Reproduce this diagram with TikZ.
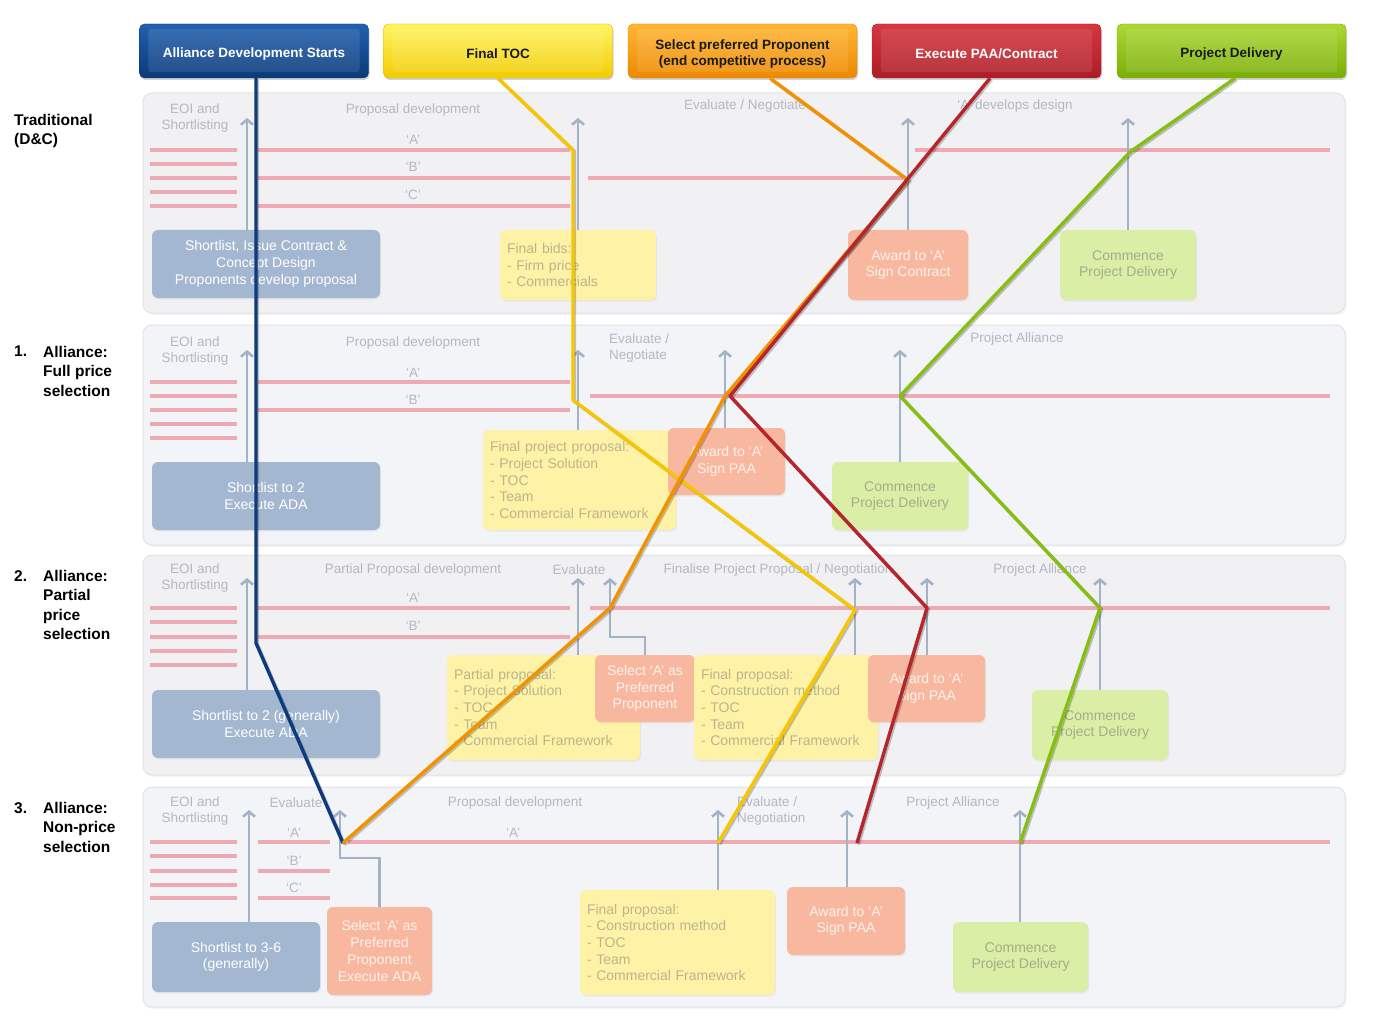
\documentclass[tikz,border=0pt]{standalone}
\usepackage{fontspec}
\setmainfont{Liberation Sans}
\usetikzlibrary{shadows,arrows.meta}
\definecolor{navyc}{HTML}{0B3B7C}
\definecolor{yelc}{HTML}{F7C600}
\definecolor{orac}{HTML}{F39200}
\definecolor{redc}{HTML}{B5252C}
\definecolor{grnc}{HTML}{86BF14}
\definecolor{hAt}{HTML}{2260AE}
\definecolor{hAb}{HTML}{0A3A7A}
\definecolor{hBt}{HTML}{FFF462}
\definecolor{hBb}{HTML}{F2CC00}
\definecolor{hCt}{HTML}{FFB634}
\definecolor{hCb}{HTML}{EC8800}
\definecolor{hDt}{HTML}{D6363F}
\definecolor{hDb}{HTML}{AC1D27}
\definecolor{hEt}{HTML}{ABD834}
\definecolor{hEb}{HTML}{7BAE08}
\definecolor{bandA}{HTML}{F1F1F3}
\definecolor{bandB}{HTML}{F2F4F8}
\definecolor{bandline}{HTML}{E1E3E8}
\definecolor{fadetxt}{HTML}{B3B8C2}
\definecolor{fredl}{HTML}{EEAAB3}
\definecolor{arrc}{HTML}{A3B2C7}
\definecolor{fblue}{HTML}{A4B7D1}
\definecolor{fyel}{HTML}{FDF2A6}
\definecolor{fyeltxt}{HTML}{BCB58C}
\definecolor{fsal}{HTML}{F8B8A0}
\definecolor{fsaltxt}{HTML}{FFF1EA}
\definecolor{fgrn}{HTML}{DBEEA5}
\definecolor{fgrntxt}{HTML}{A4AD8A}
\begin{document}
\begin{tikzpicture}[x=1pt,y=-1pt,
  hdr/.style={rounded corners=5pt, minimum width=229pt, minimum height=54pt, inner sep=0pt,
    font=\fontsize{13.5}{16}\selectfont\bfseries, align=center,
    drop shadow={opacity=0.35,shadow xshift=1pt,shadow yshift=-2pt}},
  bevel/.style={fill=white, opacity=0.10, rounded corners=3pt},
  band/.style={rounded corners=9pt, draw=bandline, line width=1pt,
    drop shadow={opacity=0.08,shadow xshift=1.5pt,shadow yshift=-2pt}},
  flab/.style={text=fadetxt, font=\fontsize{13.5}{16.5}\selectfont, inner sep=0pt, align=center},
  fline/.style={draw=fredl, line width=3.1pt},
  farrow/.style={draw=arrc, line width=2.6pt, -{Straight Barb[length=5pt,width=12pt]}},
  fbox/.style={rounded corners=6pt, inner sep=5pt, font=\fontsize{14}{16.7}\selectfont,
    drop shadow={opacity=0.10,shadow xshift=1pt,shadow yshift=-1.5pt}},
  blueb/.style={fbox, fill=fblue, text=white, align=center},
  yelb/.style={fbox, fill=fyel, text=fyeltxt, align=left},
  salb/.style={fbox, fill=fsal, text=fsaltxt, align=center},
  greb/.style={fbox, fill=fgrn, text=fgrntxt, align=center},
  tl/.style={line width=3.4pt, line join=round,
    preaction={draw=black, opacity=0.22, line width=3.4pt,
      transform canvas={xshift=1.5pt,yshift=-1.5pt}}},
  rowlab/.style={font=\fontsize{15.5}{19.5}\selectfont\bfseries, inner sep=0pt, align=left, anchor=north west}
]
\useasboundingbox (0,0) rectangle (1375,1032);
\fill[white] (0,0) rectangle (1375,1032);

% ---------- row labels ----------
\node[rowlab] (lt) at (14,114) {Traditional\\(D\&C)};
\node[rowlab] (n1) at (14,346) {1.};
\node[rowlab] (l1) at (43,346) {Alliance:\\Full price\\selection};
\node[rowlab] (n2) at (14,570) {2.};
\node[rowlab] (l2) at (43,570) {Alliance:\\Partial\\price\\selection};
\node[rowlab] (n3) at (14,802) {3.};
\node[rowlab] (l3) at (43,802) {Alliance:\\Non-price\\selection};

% ---------- bands ----------
\draw[band, fill=bandA] (143,93) rectangle (1345,313);
\draw[band, fill=bandB] (143,325) rectangle (1345,545);
\draw[band, fill=bandA] (143,555) rectangle (1345,775);
\draw[band, fill=bandB] (143,787) rectangle (1345,1007);

% ---------- band 1 : Traditional ----------
\foreach \yy in {150,164,178,192,206} \draw[fline] (150,\yy) -- (237,\yy);
\foreach \yy in {150,178,206} \draw[fline] (258,\yy) -- (570,\yy);
\draw[fline] (588,178) -- (903,178);
\draw[fline] (915,150) -- (1330,150);
\node[flab] (e1) at (195,118) {EOI and\\Shortlisting};
\node[flab] (p1) at (413,110) {Proposal development};
\node[flab] (a1) at (413,140) {`A'};
\node[flab] (bb1) at (413,167) {`B'};
\node[flab] (c1) at (413,195) {`C'};
\node[flab] (v1) at (745,106) {Evaluate / Negotiate};
\node[flab] (d1) at (1015,106) {`A' develops design};
\node[blueb, minimum width=228pt, minimum height=68pt] (b1a) at (266,264)
  {Shortlist, Issue Contract \&\\Concept Design\\Proponents develop proposal};
\node[yelb, minimum width=156pt, minimum height=70pt, text width=142pt] (b1b) at (578,265)
  {Final bids:\\- Firm price\\- Commercials};
\node[salb, minimum width=120pt, minimum height=70pt] (b1c) at (908,265) {Award to `A'\\Sign Contract};
\node[greb, minimum width=136pt, minimum height=70pt] (b1d) at (1128,265) {Commence\\Project Delivery};
\coordinate (t1a) at (247,118);
\coordinate (t1b) at (578,118);
\coordinate (t1c) at (908,118);
\coordinate (t1d) at (1128,118);
\draw[farrow] (b1a.north -| t1a) -- (t1a);
\draw[farrow] (b1b.north) -- (t1b);
\draw[farrow] (b1c.north) -- (t1c);
\draw[farrow] (b1d.north) -- (t1d);

% ---------- band 2 : Full price ----------
\foreach \yy in {382,396,410,424,438} \draw[fline] (150,\yy) -- (237,\yy);
\foreach \yy in {382,410} \draw[fline] (258,\yy) -- (570,\yy);
\draw[fline] (590,396) -- (1330,396);
\node[flab] (e2) at (195,351) {EOI and\\Shortlisting};
\node[flab] (p2) at (413,343) {Proposal development};
\node[flab] (a2) at (413,373) {`A'};
\node[flab] (bb2) at (413,400) {`B'};
\node[flab, align=left, anchor=west] (v2) at (609,348) {Evaluate /\\Negotiate};
\node[flab] (pa2) at (1017,339) {Project Alliance};
\node[blueb, minimum width=228pt, minimum height=68pt] (b2a) at (266,496) {Shortlist to 2\\Execute ADA};
\node[yelb, minimum width=193pt, minimum height=100pt, text width=179pt] (b2b) at (579.5,480)
  {Final project proposal:\\- Project Solution\\- TOC\\- Team\\- Commercial Framework};
\node[salb, minimum width=117pt, minimum height=67pt] (b2c) at (726.5,461.5) {Award to `A'\\Sign PAA};
\node[greb, minimum width=136pt, minimum height=68pt] (b2d) at (900,496) {Commence\\Project Delivery};
\coordinate (t2a) at (247,350);
\coordinate (t2b) at (578,350);
\coordinate (t2c) at (725,350);
\coordinate (t2d) at (900,350);
\draw[farrow] (b2a.north -| t2a) -- (t2a);
\draw[farrow] (b2b.north -| t2b) -- (t2b);
\draw[farrow] (b2c.north -| t2c) -- (t2c);
\draw[farrow] (b2d.north) -- (t2d);

% ---------- band 3 : Partial price ----------
\foreach \yy in {608,622,637,651,665} \draw[fline] (150,\yy) -- (237,\yy);
\foreach \yy in {608,637} \draw[fline] (258,\yy) -- (570,\yy);
\draw[fline] (590,608) -- (1330,608);
\node[flab] (e3) at (195,578) {EOI and\\Shortlisting};
\node[flab] (p3) at (413,570) {Partial Proposal development};
\node[flab] (a3) at (413,598) {`A'};
\node[flab] (bb3) at (413,626) {`B'};
\node[flab] (v3) at (579,570) {Evaluate};
\node[flab] (f3) at (778,570) {Finalise Project Proposal / Negotiation};
\node[flab] (pa3) at (1040,570) {Project Alliance};
\node[blueb, minimum width=228pt, minimum height=68pt] (b3a) at (266,724) {Shortlist to 2 (generally)\\Execute ADA};
\node[yelb, minimum width=193pt, minimum height=105pt, text width=179pt] (b3b) at (543.5,707.5)
  {Partial proposal:\\- Project Solution\\- TOC\\- Team\\- Commercial Framework};
\node[salb, minimum width=100pt, minimum height=67pt] (b3c) at (645,688.5) {Select `A' as\\Preferred\\Proponent};
\node[yelb, minimum width=184pt, minimum height=105pt, text width=170pt] (b3d) at (786,707.5)
  {Final proposal:\\- Construction method\\- TOC\\- Team\\- Commercial Framework};
\node[salb, minimum width=117pt, minimum height=67pt] (b3e) at (926.5,688.5) {Award to `A'\\Sign PAA};
\node[greb, minimum width=136pt, minimum height=70pt] (b3f) at (1100,725) {Commence\\Project Delivery};
\coordinate (t3a) at (247,578);
\coordinate (t3b) at (578,578);
\coordinate (t3c) at (610,578);
\coordinate (t3d) at (855,578);
\coordinate (t3e) at (927,578);
\coordinate (t3f) at (1100,578);
\draw[farrow] (b3a.north -| t3a) -- (t3a);
\draw[farrow] (b3b.north -| t3b) -- (t3b);
\draw[farrow] (b3c.north) -- ++(0,-18) -| (t3c);
\draw[farrow] (b3d.north -| t3d) -- (t3d);
\draw[farrow] (b3e.north -| t3e) -- (t3e);
\draw[farrow] (b3f.north) -- (t3f);

% ---------- band 4 : Non-price ----------
\foreach \yy in {842,856,871,885,898} \draw[fline] (150,\yy) -- (237,\yy);
\foreach \yy in {842,871,898} \draw[fline] (258,\yy) -- (330,\yy);
\draw[fline] (348,842) -- (1330,842);
\node[flab] (e4) at (195,811) {EOI and\\Shortlisting};
\node[flab] (v4) at (296,803) {Evaluate};
\node[flab] (a4) at (294,833) {`A'};
\node[flab] (bb4) at (294,861) {`B'};
\node[flab] (c4) at (294,888) {`C'};
\node[flab] (p4) at (515,803) {Proposal development};
\node[flab] (a4b) at (513,833) {`A'};
\node[flab, align=left, anchor=west] (v4b) at (737,811) {Evaluate /\\Negotiation};
\node[flab] (pa4) at (953,803) {Project Alliance};
\node[blueb, minimum width=168pt, minimum height=70pt] (b4a) at (236,957) {Shortlist to 3-6\\(generally)};
\node[salb, minimum width=105pt, minimum height=88pt] (b4b) at (379.5,951) {Select `A' as\\Preferred\\Proponent\\Execute ADA};
\node[yelb, minimum width=195pt, minimum height=105pt, text width=181pt] (b4c) at (677.5,942.5)
  {Final proposal:\\- Construction method\\- TOC\\- Team\\- Commercial Framework};
\node[salb, minimum width=118pt, minimum height=68pt] (b4d) at (846,921) {Award to `A'\\Sign PAA};
\node[greb, minimum width=135pt, minimum height=70pt] (b4e) at (1020.5,957) {Commence\\Project Delivery};
\coordinate (t4a) at (249,810);
\coordinate (t4b) at (340,810);
\coordinate (t4c) at (718,810);
\coordinate (t4d) at (847,810);
\coordinate (t4e) at (1020,810);
\draw[farrow] (b4a.north -| t4a) -- (t4a);
\draw[farrow] (b4b.north) -- ++(0,-49) -| (t4b);
\draw[farrow] (b4c.north -| t4c) -- (t4c);
\draw[farrow] (b4d.north -| t4d) -- (t4d);
\draw[farrow] (b4e.north -| t4e) -- (t4e);

% ---------- header boxes ----------
\node[hdr, top color=hAt, bottom color=hAb, draw=hAb, text=white] (hA) at (254,51) {\rule{0pt}{15pt}Alliance Development Starts};
\node[hdr, top color=hBt, bottom color=hBb, draw=hBb!90!black, text=black] (hB) at (498,51) {\rule{0pt}{15pt}Final TOC};
\node[hdr, top color=hCt, bottom color=hCb, draw=hCb, text=black] (hC) at (742.5,51) {\rule{0pt}{15pt}Select preferred Proponent\\(end competitive process)};
\node[hdr, top color=hDt, bottom color=hDb, draw=hDb, text=white] (hD) at (986.5,51) {\rule{0pt}{15pt}Execute PAA/Contract};
\node[hdr, top color=hEt, bottom color=hEb, draw=hEb, text=black] (hE) at (1231.5,51) {\rule{0pt}{15pt}Project Delivery};
\foreach \hn in {hA,hB,hC,hD,hE}
  \fill[bevel] ([xshift=9pt,yshift=-5pt]\hn.north west) rectangle ([xshift=-9pt,yshift=6pt]\hn.south east);

% ---------- timelines ----------
\coordinate (nv1) at (256,643);
\coordinate (nv2) at (343,843);
\coordinate (yv1) at (573,150);
\coordinate (yv2) at (573,400);
\coordinate (yv3) at (855,610);
\coordinate (yv4) at (718,843);
\coordinate (ov0) at (770,78);
\coordinate (ov1) at (908,180);
\coordinate (ov2) at (725,396);
\coordinate (ov3) at (610,608);
\coordinate (ov4) at (343,843);
\coordinate (rv0) at (990,78);
\coordinate (rv1) at (730,396);
\coordinate (rv2) at (927,608);
\coordinate (rv3) at (857,843);
\coordinate (gv0) at (1235,78);
\coordinate (gv1) at (1130,152);
\coordinate (gv2) at (900,396);
\coordinate (gv3) at (1100,608);
\coordinate (gv4) at (1020,843);
\draw[tl, draw=navyc] (hA.south -| nv1) -- (nv1) -- (nv2);
\draw[tl, draw=yelc] (hB.south) -- (yv1) -- (yv2) -- (yv3) -- (yv4);
\draw[tl, draw=orac] (hC.south -| ov0) -- (ov1) -- (ov2) -- (ov3) -- (ov4);
\draw[tl, draw=redc] (hD.south -| rv0) -- (rv1) -- (rv2) -- (rv3);
\draw[tl, draw=grnc] (hE.south -| gv0) -- (gv1) -- (gv2) -- (gv3) -- (gv4);
\end{tikzpicture}
\end{document}
